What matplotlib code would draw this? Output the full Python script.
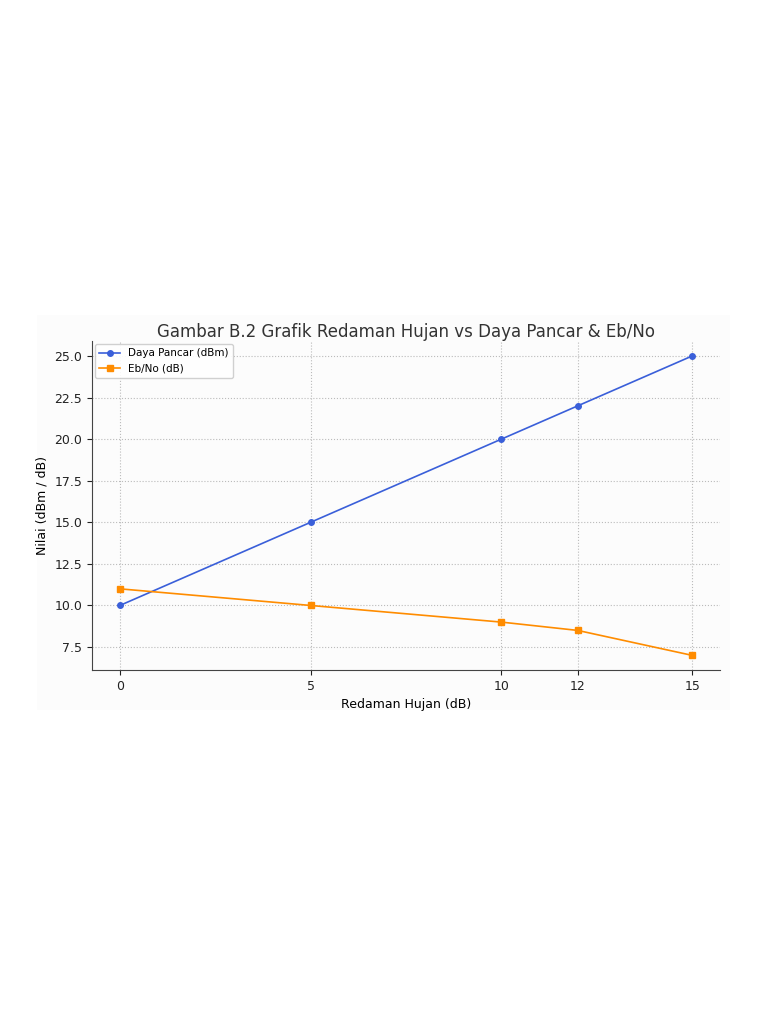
import matplotlib
matplotlib.use("Agg")
import matplotlib.pyplot as plt
from matplotlib.patches import Rectangle

redaman = [0, 5, 10, 12, 15]
daya_pancar = [10, 15, 20, 22, 25]
ebno = [11, 10, 9, 8.5, 7]

fig = plt.figure(figsize=(7.68, 10.24), dpi=100)
fig.patch.set_facecolor("white")
fig.patches.append(Rectangle((37/768, 1-710/1024), (730-37)/768, (710-315)/1024,
                             transform=fig.transFigure, facecolor="#fcfcfc", edgecolor="none", zorder=-10))
ax = fig.add_axes([92/768, 1-670/1024, 628/768, 329/1024])
ax.set_facecolor("#fcfcfc")
ax.plot(redaman, daya_pancar, marker="o", color="#3a5fd9", lw=1.2, ms=4, label="Daya Pancar (dBm)")
ax.plot(redaman, ebno, marker="s", color="#ff8c00", lw=1.2, ms=4, label="Eb/No (dB)")
ax.set_xlim(-0.73, 15.73)
ax.set_ylim(6.12, 25.9)
ax.set_xticks(redaman)
ax.set_yticks([7.5, 10, 12.5, 15, 17.5, 20, 22.5, 25])
ax.grid(True, ls=":", color="#bbbbbb", lw=0.8)
for s in ["top", "right"]:
    ax.spines[s].set_visible(False)
for s in ["left", "bottom"]:
    ax.spines[s].set_color("#444444")
ax.tick_params(labelsize=9, colors="#222222")
ax.set_xlabel("Redaman Hujan (dB)", fontsize=9)
ax.set_ylabel("Nilai (dBm / dB)", fontsize=9)
ax.set_title("Gambar B.2 Grafik Redaman Hujan vs Daya Pancar & Eb/No", fontsize=12, color="#333333", pad=3)
ax.legend(loc="upper left", fontsize=7.5, framealpha=0.9, borderaxespad=0.3)
fig.savefig("out.png", dpi=100, facecolor=fig.get_facecolor())
